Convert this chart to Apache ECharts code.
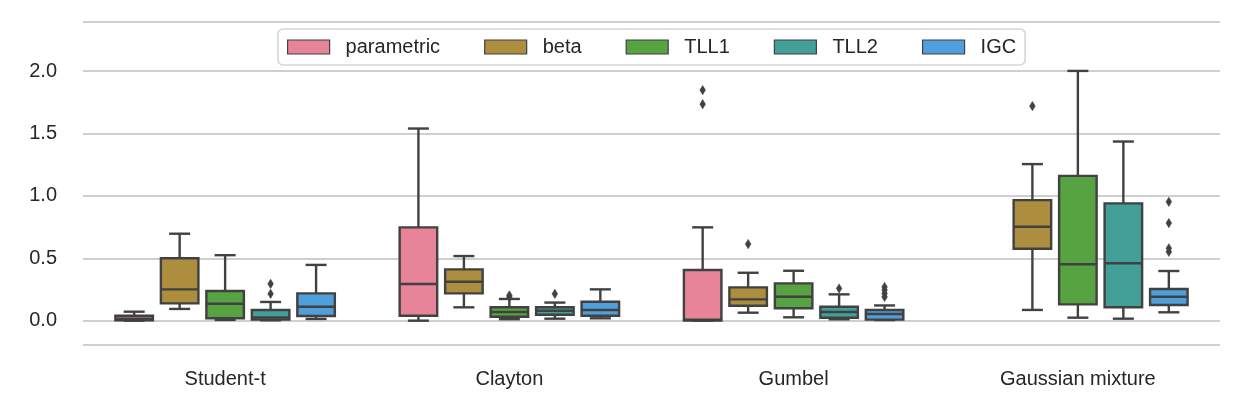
<!DOCTYPE html>
<html>
<head>
<meta charset="utf-8">
<script src="https://cdn.jsdelivr.net/npm/echarts@6/dist/echarts.min.js"></script>
<style>
html,body{margin:0;padding:0;background:#ffffff;}
#c{width:1246px;height:419px;}
</style>
</head>
<body>
<div id="c"></div>
<script>
// ---------- data ----------
const categories = ['Student-t', 'Clayton', 'Gumbel', 'Gaussian mixture'];
const methods = ['parametric', 'beta', 'TLL1', 'TLL2', 'IGC'];
const yTicks = [0, 0.5, 1.0, 1.5, 2.0];

// each box: [categoryIndex, whiskerLow, q1, median, q3, whiskerHigh]
const parametricBoxes = [
  [0, 0.000, 0.003, 0.015, 0.040, 0.072],
  [1, 0.000, 0.040, 0.294, 0.748, 1.540],
  [2, 0.000, 0.000, 0.008, 0.406, 0.748]
];
const betaBoxes = [
  [0, 0.094, 0.139, 0.251, 0.500, 0.697],
  [1, 0.107, 0.219, 0.312, 0.411, 0.518],
  [2, 0.064, 0.120, 0.171, 0.267, 0.384],
  [3, 0.086, 0.577, 0.753, 0.966, 1.255]
];
const tll1Boxes = [
  [0, 0.006, 0.019, 0.136, 0.238, 0.525],
  [1, 0.012, 0.032, 0.070, 0.107, 0.174],
  [2, 0.027, 0.099, 0.192, 0.299, 0.400],
  [3, 0.024, 0.131, 0.452, 1.161, 2.002]
];
const tll2Boxes = [
  [0, 0.003, 0.008, 0.025, 0.086, 0.150],
  [1, 0.016, 0.048, 0.080, 0.107, 0.145],
  [2, 0.011, 0.024, 0.070, 0.112, 0.211],
  [3, 0.016, 0.107, 0.460, 0.940, 1.436]
];
const igcBoxes = [
  [0, 0.014, 0.038, 0.112, 0.219, 0.447],
  [1, 0.019, 0.040, 0.086, 0.152, 0.251],
  [2, 0.005, 0.008, 0.054, 0.086, 0.122],
  [3, 0.067, 0.126, 0.192, 0.254, 0.398]
];

// outliers: [categoryIndex, value]
const parametricOutliers = [[2, 1.735], [2, 1.848]];
const betaOutliers = [[2, 0.614], [3, 1.720]];
const tll1Outliers = [[1, 0.190], [1, 0.203]];
const tll2Outliers = [[0, 0.215], [0, 0.295], [1, 0.215], [2, 0.258]];
const igcOutliers = [[2, 0.190], [2, 0.218], [2, 0.245], [2, 0.270],
                     [3, 0.552], [3, 0.580], [3, 0.782], [3, 0.953]];

const boxSets = [parametricBoxes, betaBoxes, tll1Boxes, tll2Boxes, igcBoxes];
const outlierSets = [parametricOutliers, betaOutliers, tll1Outliers, tll2Outliers, igcOutliers];

// ---------- style ----------
const palette = ['#e7849a', '#ac8e3e', '#57a241', '#42a098', '#4f9fdc'];
const EDGE = '#414141';
const FONT = 'Liberation Sans, Arial, Helvetica, sans-serif';
const LW = 2.4;
const SLOT = 0.16;   // dodge spacing (fraction of band)
const BOXW = 0.132;  // box width (fraction of band)

function boxRenderer(h) {
  return function (params, api) {
    const cat = api.value(0);
    const band = api.size([1, 0])[0];
    const cx = api.coord([cat, 0])[0] + (h - 2) * SLOT * band;
    const w = BOXW * band;
    const yv = i => api.coord([cat, api.value(i)])[1];
    const lo = yv(1), q1 = yv(2), md = yv(3), q3 = yv(4), hi = yv(5);
    const ls = { stroke: EDGE, lineWidth: LW, fill: null };
    const cap = w * 0.28;
    return {
      type: 'group',
      children: [
        { type: 'line', shape: { x1: cx, y1: q3, x2: cx, y2: hi }, style: ls },
        { type: 'line', shape: { x1: cx, y1: q1, x2: cx, y2: lo }, style: ls },
        { type: 'line', shape: { x1: cx - cap, y1: hi, x2: cx + cap, y2: hi }, style: ls },
        { type: 'line', shape: { x1: cx - cap, y1: lo, x2: cx + cap, y2: lo }, style: ls },
        { type: 'rect', shape: { x: cx - w / 2, y: q3, width: w, height: q1 - q3 },
          style: { fill: palette[h], stroke: EDGE, lineWidth: LW } },
        { type: 'line', shape: { x1: cx - w / 2, y1: md, x2: cx + w / 2, y2: md }, style: ls }
      ]
    };
  };
}

function outlierRenderer(h) {
  return function (params, api) {
    const cat = api.value(0);
    const band = api.size([1, 0])[0];
    const p = api.coord([cat, api.value(1)]);
    const cx = p[0] + (h - 2) * SLOT * band;
    const cy = p[1];
    const hw = 2.8, hh = 4.6;
    return {
      type: 'polygon',
      shape: { points: [[cx, cy - hh], [cx + hw, cy], [cx, cy + hh], [cx - hw, cy]] },
      style: { fill: EDGE, stroke: EDGE, lineWidth: 0.6 }
    };
  };
}

const series = [];
methods.forEach((name, h) => {
  series.push({
    name: name,
    type: 'custom',
    renderItem: boxRenderer(h),
    itemStyle: { color: palette[h] },
    encode: { x: 0, y: [1, 2, 3, 4, 5] },
    data: boxSets[h],
    z: 3
  });
});
methods.forEach((name, h) => {
  series.push({
    name: name + ' outliers',
    type: 'custom',
    renderItem: outlierRenderer(h),
    itemStyle: { color: EDGE },
    encode: { x: 0, y: 1 },
    data: outlierSets[h],
    z: 4
  });
});

const chart = echarts.init(document.getElementById('c'), null, { renderer: 'canvas' });
chart.setOption({
  animation: false,
  backgroundColor: '#ffffff',
  textStyle: { fontFamily: FONT },
  grid: { left: 83, right: 26, top: 22, bottom: 74, containLabel: false, outerBoundsMode: 'none' },
  legend: {
    data: methods,
    left: 278,
    top: 29,
    orient: 'horizontal',
    icon: 'rect',
    itemWidth: 42,
    itemHeight: 14,
    itemGap: 44,
    padding: [8, 9, 8, 9],
    backgroundColor: '#ffffff',
    borderColor: '#d6d6d6',
    borderWidth: 1.6,
    borderRadius: 5,
    itemStyle: { borderColor: EDGE, borderWidth: 1.2 },
    textStyle: { fontSize: 20, color: '#262626', fontFamily: FONT, padding: [0, 0, 0, 11] }
  },
  xAxis: {
    type: 'category',
    data: categories,
    boundaryGap: true,
    axisLine: { show: false },
    axisTick: { show: false },
    splitLine: { show: false },
    axisLabel: { fontSize: 20, color: '#262626', margin: 24, fontFamily: FONT }
  },
  yAxis: {
    type: 'value',
    min: -0.195,
    max: 2.394,
    splitNumber: 5,
    axisLine: { show: false },
    axisTick: { show: false },
    splitLine: { show: true, lineStyle: { color: '#cfcfcf', width: 2 } },
    axisLabel: {
      fontSize: 20, color: '#262626', margin: 26, fontFamily: FONT,
      formatter: function (v) {
        const hit = yTicks.find(t => Math.abs(t - v) < 1e-6);
        return hit === undefined ? '' : hit.toFixed(1);
      }
    }
  },
  series: series
});
</script>
</body>
</html>
